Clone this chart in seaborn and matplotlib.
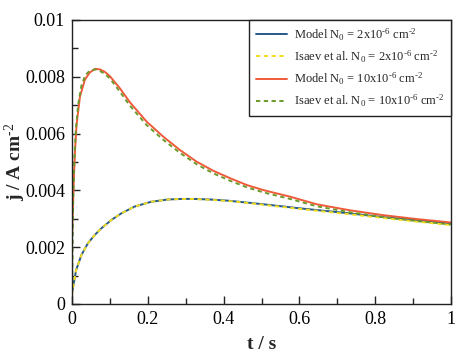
import matplotlib
matplotlib.use("Agg")
import matplotlib.pyplot as plt
import seaborn as sns
import numpy as np
from matplotlib.ticker import MultipleLocator, FuncFormatter

# ---- data ----
t_model_low = [0.0, 0.003, 0.011, 0.025, 0.042, 0.06, 0.077, 0.104, 0.13, 0.165, 0.209, 0.253,
               0.29, 0.32, 0.364, 0.41, 0.47, 0.52, 0.6, 0.733, 0.82, 0.91, 1.0]
j_model_low = [0.0004, 0.00061, 0.0012, 0.00173, 0.00214, 0.00243, 0.00266, 0.00296, 0.00319,
               0.00343, 0.0036, 0.00368, 0.0037, 0.0037, 0.00368, 0.00364, 0.00356, 0.00349,
               0.00337, 0.00319, 0.00306, 0.00295, 0.00284]

t_isaev_low = [0.0, 0.003, 0.011, 0.025, 0.042, 0.06, 0.077, 0.104, 0.13, 0.165, 0.209, 0.253,
               0.29, 0.32, 0.364, 0.41, 0.47, 0.52, 0.6, 0.733, 0.82, 0.91, 1.0]
j_isaev_low = [0.0003, 0.0006, 0.0012, 0.00173, 0.00214, 0.00243, 0.00266, 0.00296, 0.00319,
               0.00343, 0.0036, 0.00368, 0.0037, 0.0037, 0.00367, 0.00363, 0.00355, 0.00347,
               0.00335, 0.00316, 0.00303, 0.0029, 0.00278]

t_model_high = [0.0005, 0.004, 0.008, 0.012, 0.021, 0.034, 0.047, 0.061, 0.074, 0.087, 0.1,
                0.125, 0.153, 0.197, 0.241, 0.285, 0.329, 0.373, 0.417, 0.461, 0.505, 0.575,
                0.646, 0.733, 0.82, 0.91, 1.0]
j_model_high = [0.0025, 0.0041, 0.0054, 0.0063, 0.0073, 0.0079, 0.00815, 0.00828, 0.00826,
                0.00817, 0.00802, 0.00762, 0.0071, 0.00642, 0.00589, 0.00542, 0.00501, 0.00469,
                0.00443, 0.00419, 0.00401, 0.00378, 0.00351, 0.0033, 0.00313, 0.00299, 0.00287]

t_isaev_high = [0.0, 0.003, 0.006, 0.010, 0.016, 0.025, 0.035, 0.047, 0.061, 0.074, 0.087, 0.1,
                0.125, 0.153, 0.197, 0.241, 0.285, 0.329, 0.373, 0.417, 0.461, 0.505, 0.575,
                0.646, 0.733, 0.82, 0.91, 1.0]
j_isaev_high = [0.0002, 0.0036, 0.0050, 0.0061, 0.0070, 0.0077, 0.00805, 0.00822, 0.00826,
                0.0082, 0.0081, 0.00794, 0.0075, 0.00698, 0.0063, 0.00578, 0.00532, 0.00492,
                0.0046, 0.00434, 0.00411, 0.00393, 0.0037, 0.00344, 0.00323, 0.00306, 0.00292,
                0.0028]

labels = [r"Model N$_0$ = 2x10$^{\text{-6}}$ cm$^{\text{-2}}$",
          r"Isaev et al. N$_0$ = 2x10$^{\text{-6}}$ cm$^{\text{-2}}$",
          r"Model N$_0$ = 10x10$^{\text{-6}}$ cm$^{\text{-2}}$",
          r"Isaev et al. N$_0$ = 10x10$^{\text{-6}}$ cm$^{\text{-2}}$"]

x_ticks = [0, 0.2, 0.4, 0.6, 0.8, 1.0]
y_ticks = [0, 0.002, 0.004, 0.006, 0.008, 0.01]

# ---- style ----
sns.set_theme(style="ticks")
plt.rcParams["font.family"] = ["Liberation Serif", "DejaVu Serif"]
plt.rcParams["mathtext.fontset"] = "custom"
plt.rcParams["mathtext.rm"] = "Liberation Serif"
plt.rcParams["mathtext.it"] = "Liberation Serif:italic"
plt.rcParams["mathtext.bf"] = "Liberation Serif:bold"

fig = plt.figure(figsize=(4.74, 3.55), dpi=100)
ax = fig.add_axes([72 / 474, 1 - 304 / 355, (451 - 72) / 474, (304 - 20) / 355])

c_blue = "#265a8c"
c_yellow = "#f2dc1e"
c_red = "#ef5b3a"
c_green = "#6b9a2a"

dash = (0, (2.2, 1.8))
sns.lineplot(x=t_model_low, y=j_model_low, ax=ax, color=c_blue, lw=1.4, label=labels[0],
             estimator=None)
sns.lineplot(x=t_isaev_low, y=j_isaev_low, ax=ax, color=c_yellow, lw=1.4, label=labels[1],
             estimator=None, linestyle=dash)
sns.lineplot(x=t_model_high, y=j_model_high, ax=ax, color=c_red, lw=1.4, label=labels[2],
             estimator=None)
sns.lineplot(x=t_isaev_high, y=j_isaev_high, ax=ax, color=c_green, lw=1.4, label=labels[3],
             estimator=None, linestyle=dash)

ax.set_xlim(0, 1)
ax.set_ylim(0, 0.01)
ax.set_xticks(x_ticks)
ax.set_yticks(y_ticks)
fmt = FuncFormatter(lambda v, p: ("%g" % round(v, 4)))
ax.xaxis.set_major_formatter(fmt)
ax.yaxis.set_major_formatter(fmt)
ax.xaxis.set_minor_locator(MultipleLocator(0.1))
ax.yaxis.set_minor_locator(MultipleLocator(0.001))
ax.tick_params(which="both", direction="in", top=False, right=False, colors="#222222",
               labelcolor="black", labelsize=13, width=1)
ax.tick_params(which="major", length=6, pad=5)
ax.tick_params(which="minor", length=4)
for s in ax.spines.values():
    s.set_linewidth(1.0)
    s.set_color("#222222")

ax.set_xlabel(r"t / s", fontsize=14, fontweight="bold", labelpad=6)
ax.set_ylabel(r"j / A cm$^{\mathbf{\text{-2}}}$", fontsize=14, fontweight="bold")
ax.yaxis.set_label_coords(-0.117, 0.5)

leg = ax.legend(loc="upper right", borderaxespad=0, frameon=True, fancybox=False,
                edgecolor="#222222", framealpha=1, fontsize=9, handlelength=2.5,
                handletextpad=0.6, labelspacing=0.47, borderpad=0.5)
leg.get_frame().set_linewidth(1.0)

fig.savefig("out.png", dpi=100)
